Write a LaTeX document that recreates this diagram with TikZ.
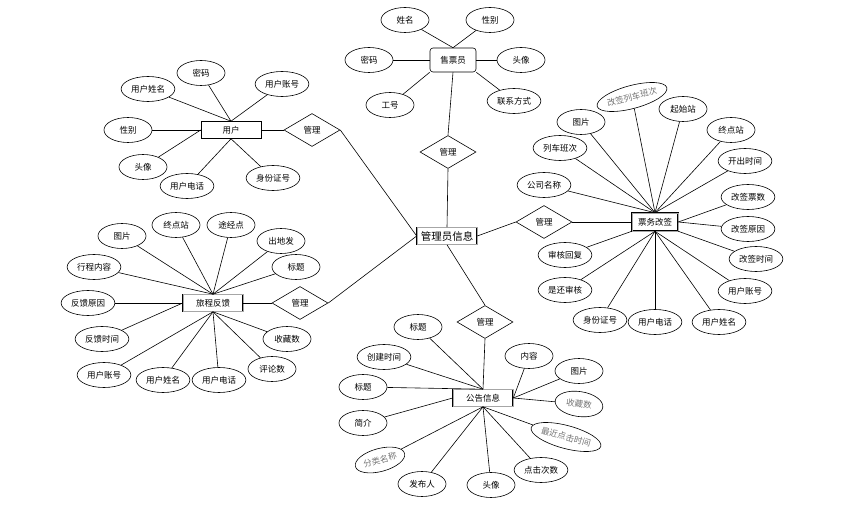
\documentclass[tikz,border=0pt]{standalone}
\usepackage{fontspec}
\setmainfont{Noto Sans CJK SC}
\usetikzlibrary{shapes.geometric}

\begin{document}
\begin{tikzpicture}[x=1pt,y=-1pt,line width=0.6pt]
\tikzstyle{attr}=[ellipse,draw,inner sep=2pt,minimum width=48,minimum height=25,font=\fontsize{8.5}{9}\selectfont]
\tikzstyle{grayattr}=[attr,inner sep=0pt,minimum height=23,text=black!55]
\tikzstyle{ent}=[rectangle,draw,minimum width=60,minimum height=17,inner sep=2pt,font=\fontsize{8.5}{9}\selectfont]
\tikzstyle{dent}=[ent,draw=black,double=black!35,double distance=0.5pt]
\tikzstyle{rel}=[diamond,draw,aspect=1.7,minimum width=56,minimum height=33,inner sep=0pt,font=\fontsize{8.5}{9}\selectfont]
\useasboundingbox (0,0) rectangle (860,505);
\node[dent,font=\fontsize{10.5}{11}\selectfont] (glyxx) at (447,236) {管理员信息};
\node[ent,rounded corners=3pt,minimum width=46,minimum height=24] (spy) at (453,60) {售票员};
\node[ent] (yh) at (231,130) {用户};
\node[dent] (lcfk) at (213,303) {旅程反馈};
\node[dent,minimum width=46,minimum height=18] (pwgq) at (655,222) {票务改签};
\node[dent] (ggxx) at (483,398) {公告信息};
\node[rel] (gl1) at (448,152) {管理};
\node[rel] (gl2) at (312,130) {管理};
\node[rel] (gl3) at (300,303) {管理};
\node[rel] (gl4) at (544,222) {管理};
\node[rel] (gl5) at (485,322) {管理};
\draw (spy.south) -- (gl1.north);
\draw (gl1.south) -- (glyxx.north);
\draw[thick] (yh) -- (gl2);
\draw (gl2.east) -- (glyxx.west);
\draw (lcfk) -- (gl3);
\draw (gl3.east) -- (glyxx.west);
\draw (glyxx.east) -- (gl4.west);
\draw (gl4) -- (pwgq);
\draw (glyxx.south) -- (gl5.north);
\draw (gl5.south) -- (ggxx.north);
\node[attr] (spyxm) at (405,20) {姓名};
\node[attr] (spyxb) at (490,20) {性别};
\node[attr] (spymm) at (369,60) {密码};
\node[attr] (spytx) at (521,60) {头像};
\node[attr] (spygh) at (390,105) {工号};
\node[attr] (spylx) at (514,101) {联系方式};
\draw (spy.north) -- (spyxm);
\draw (spy.north) -- (spyxb);
\draw (spy) -- (spymm);
\draw (spy) -- (spytx);
\draw (spy.south west) -- (spygh);
\draw (spy.south east) -- (spylx);
\node[attr] (yhxm) at (148,89) {用户姓名};
\node[attr] (yhmm) at (201,73) {密码};
\node[attr] (yhzh) at (282,84) {用户账号};
\node[attr] (yhxb) at (128,130) {性别};
\node[attr] (yhtx) at (143,167) {头像};
\node[attr] (yhdh) at (187,186) {用户电话};
\node[attr] (yhsfz) at (273,178) {身份证号};
\draw (yh.north) -- (yhxm);
\draw (yh.north) -- (yhmm);
\draw (yh.north) -- (yhzh);
\draw[thick] (yh) -- (yhxb);
\draw (yh.west) -- (yhtx);
\draw (yh.south) -- (yhdh);
\draw (yh.south) -- (yhsfz);
\node[grayattr,rotate=15] (pwgc) at (632,97) {改签列车班次};
\node[attr] (pwqs) at (683,109) {起始站};
\node[attr] (pwtp) at (581,122) {图片};
\node[attr] (pwzd) at (731,130) {终点站};
\node[attr] (pwlc) at (560,148) {列车班次};
\node[attr] (pwkc) at (745,161) {开出时间};
\node[attr] (pwgs) at (544,185) {公司名称};
\node[attr] (pwps) at (748,197) {改签票数};
\node[attr] (pwyy) at (748,229) {改签原因};
\node[attr] (pwhf) at (565,255) {审核回复};
\node[attr] (pwsj) at (756,259) {改签时间};
\node[attr] (pwsh) at (565,290) {是还审核};
\node[attr] (pwzh) at (745,291) {用户账号};
\node[attr] (pwsfz) at (600,320) {身份证号};
\node[attr] (pwdh) at (655,322) {用户电话};
\node[attr] (pwxm) at (719,322) {用户姓名};
\foreach \n in {pwgc,pwqs,pwtp,pwzd,pwlc,pwkc,pwgs}
  \draw (pwgq.north) -- (\n);
\draw (pwgq.east) -- (pwps);
\draw (pwgq.east) -- (pwyy);
\draw (pwgq.south east) -- (pwsj);
\draw (pwgq.south west) -- (pwhf);
\foreach \n in {pwsh,pwzh,pwsfz,pwdh,pwxm}
  \draw (pwgq.south) -- (\n);
\node[attr] (lftp) at (122,236) {图片};
\node[attr] (lfzd) at (176,225) {终点站};
\node[attr] (lftj) at (231,225) {途经点};
\node[attr] (lfcf) at (281,241) {出地发};
\node[attr] (lfbt) at (296,267) {标题};
\node[attr] (lfnr) at (94,267) {行程内容};
\node[attr] (lfyy) at (88,303) {反馈原因};
\node[attr] (lfsj) at (102,339) {反馈时间};
\node[attr] (lfsc) at (287,339) {收藏数};
\node[attr] (lfzh) at (104,375) {用户账号};
\node[attr] (lfxm) at (163,380) {用户姓名};
\node[attr] (lfdh) at (219,380) {用户电话};
\node[attr] (lfpl) at (272,369) {评论数};
\foreach \n in {lftp,lfzd,lftj,lfcf,lfbt,lfnr}
  \draw (lcfk.north) -- (\n);
\draw (lcfk) -- (lfyy);
\draw (lcfk.west) -- (lfsj);
\foreach \n in {lfzh,lfxm,lfdh,lfpl,lfsc}
  \draw (lcfk.south) -- (\n);
\node[attr] (ggbt) at (418,327) {标题};
\node[attr] (ggcj) at (384,357) {创建时间};
\node[attr] (ggbtb) at (363,387) {标题};
\node[attr] (ggnr) at (529,356) {内容};
\node[attr] (ggtp) at (579,371) {图片};
\node[grayattr,rotate=-8,inner sep=2pt,minimum height=25] (ggsc) at (579,404) {收藏数};
\node[attr] (ggjj) at (363,423) {简介};
\node[grayattr,rotate=-15] (ggzj) at (566,437) {最近点击时间};
\node[grayattr,rotate=15,inner sep=1pt] (ggfl) at (380,460) {分类名称};
\node[attr] (ggdj) at (541,470) {点击次数};
\node[attr] (ggfb) at (422,484) {发布人};
\node[attr] (ggtx) at (491,485) {头像};
\foreach \n in {ggbt,ggcj,ggbtb}
  \draw (ggxx.north) -- (\n);
\foreach \n in {ggnr,ggtp,ggsc}
  \draw (ggxx.east) -- (\n);
\draw (ggxx.west) -- (ggjj);
\foreach \n in {ggzj,ggfl,ggdj,ggfb,ggtx}
  \draw (ggxx.south) -- (\n);
\end{tikzpicture}
\end{document}
